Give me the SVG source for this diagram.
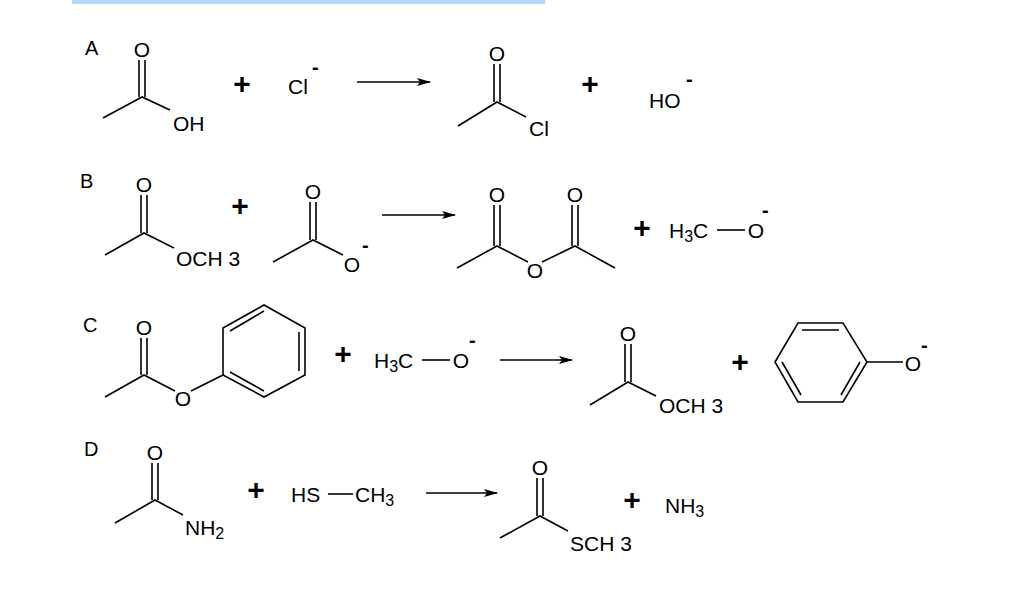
<svg xmlns="http://www.w3.org/2000/svg" width="1024" height="609" viewBox="0 0 1024 609">
<defs>
<style>
.b{stroke:#000;stroke-width:1.6;fill:none}
text{font-family:"Liberation Sans",Arial,sans-serif;font-size:21px;fill:#000}
.lbl{font-size:20px}
.p{font-size:30px;font-weight:bold}
.s{font-size:16px}
.m{font-size:20px;font-weight:bold}
.t{text-anchor:middle}
</style>
<marker id="ah" markerWidth="14" markerHeight="8" refX="13" refY="4" orient="auto" markerUnits="userSpaceOnUse"><path d="M0,0 L14,4 L0,8 L3,4 Z" fill="#000"/></marker>
</defs>
<rect width="1024" height="609" fill="#fff"/>
<rect x="72" y="0" width="473" height="4" fill="#b3d6fb"/>
<g id="labels">
<text x="85" y="55" class="lbl">A</text>
<text x="80" y="188" class="lbl">B</text>
<text x="83" y="332" class="lbl">C</text>
<text x="84" y="456" class="lbl">D</text>
</g>
<g id="connectors">
<line class="b" x1="357" y1="82" x2="430" y2="82" marker-end="url(#ah)"/>
<line class="b" x1="382" y1="215" x2="455" y2="215" marker-end="url(#ah)"/>
<line class="b" x1="500" y1="360" x2="572" y2="360" marker-end="url(#ah)"/>
<line class="b" x1="426" y1="493" x2="497" y2="493" marker-end="url(#ah)"/>
</g>
<g id="A1"><path class="b" d="M103,118 L142,97 L170,110 M139,97 V60 M145,97 V60"/><text x="142" y="57" class="t">O</text><text x="173" y="131">OH</text></g>
<text x="242" y="94" class="p t">+</text>
<g id="A2"><text x="288" y="94">Cl</text><text x="312" y="74" class="m">-</text></g>
<g id="A3"><path class="b" d="M458,126 L497,102 L526,117 M494,102 V64 M500,102 V64"/><text x="497" y="61" class="t">O</text><text x="529" y="136">Cl</text></g>
<text x="590" y="94" class="p t">+</text>
<g id="A4"><text x="649" y="108">HO</text><text x="686" y="86" class="m">-</text></g>

<g id="B1"><path class="b" d="M105,255 L144,233 L174,248 M141,233 V195 M147,233 V195"/><text x="144" y="192" class="t">O</text><text x="176" y="266">OCH 3</text></g>
<text x="240" y="216" class="p t">+</text>
<g id="B2"><path class="b" d="M273,262 L313,240 L343,255 M310,240 V202 M316,240 V202"/><text x="313" y="199" class="t">O</text><text x="352" y="272" class="t">O</text><text x="362" y="252" class="m">-</text></g>
<g id="B3"><path class="b" d="M457,268 L497,246 L528,262 M542,262 L575,246 L615,268 M494,246 V205 M500,246 V205 M572,246 V205 M578,246 V205"/><text x="497" y="202" class="t">O</text><text x="575" y="202" class="t">O</text><text x="535" y="278" class="t">O</text></g>
<text x="642" y="238" class="p t">+</text>
<g id="B4"><text x="669" y="238">H<tspan class="s" dy="4">3</tspan><tspan dy="-4">C</tspan></text><line class="b" x1="717" y1="230" x2="745" y2="230"/><text x="756" y="238" class="t">O</text><text x="762" y="217" class="m">-</text></g>

<g id="C1"><path class="b" d="M105,397 L144,375 L175,391 M191,391 L223,375 M223,375 L223,328 L264,305 L305,328 L305,375 L264,397 Z M141,375 V338 M147,375 V338 M230,331 L264,311 M299,332 V371 M230,372 L264,391"/><text x="144" y="335" class="t">O</text><text x="183" y="406" class="t">O</text></g>
<text x="343" y="364" class="p t">+</text>
<g id="C2"><text x="374" y="368">H<tspan class="s" dy="4">3</tspan><tspan dy="-4">C</tspan></text><line class="b" x1="422" y1="360" x2="450" y2="360"/><text x="461" y="368" class="t">O</text><text x="469" y="347" class="m">-</text></g>
<g id="C3"><path class="b" d="M590,405 L628,382 L656,396 M625,382 V344 M631,382 V344"/><text x="628" y="341" class="t">O</text><text x="659" y="413">OCH 3</text></g>
<text x="740" y="372" class="p t">+</text>
<g id="C4"><path class="b" d="M775,362 L798,323 L843,323 L867,362 L843,402 L798,402 Z M802,330 L839,330 M782,362 L801,395 M860,362 L841,395 M867,362 L903,362"/><text x="913" y="371" class="t">O</text><text x="921" y="352" class="m">-</text></g>

<g id="D1"><path class="b" d="M115,523 L155,500 L183,515 M152,500 V463 M158,500 V463"/><text x="155" y="460" class="t">O</text><text x="185" y="535">NH<tspan class="s" dy="4">2</tspan></text></g>
<text x="256" y="500" class="p t">+</text>
<g id="D2"><text x="291" y="502">HS</text><line class="b" x1="328" y1="494" x2="353" y2="494"/><text x="355" y="502">CH<tspan class="s" dy="4">3</tspan></text></g>
<g id="D3"><path class="b" d="M500,538 L540,516 L568,531 M537,516 V478 M543,516 V478"/><text x="540" y="475" class="t">O</text><text x="570" y="551">SCH 3</text></g>
<text x="632" y="510" class="p t">+</text>
<g id="D4"><text x="665" y="513">NH<tspan class="s" dy="4">3</tspan></text></g>
</svg>
